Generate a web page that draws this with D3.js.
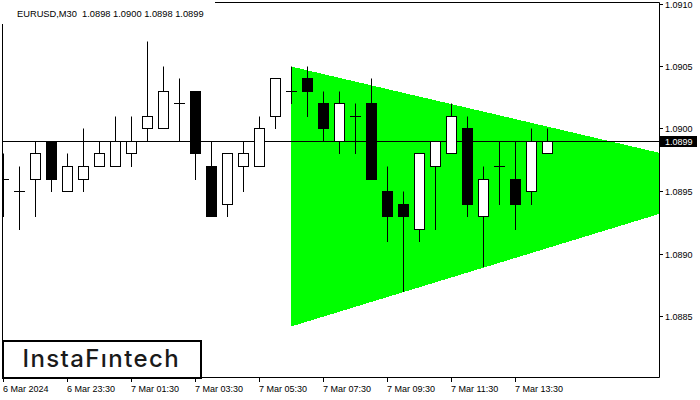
<!DOCTYPE html>
<html><head><meta charset="utf-8">
<script src="https://cdn.jsdelivr.net/npm/d3@7"></script>
<style>body{margin:0;background:#fff;}svg{display:block}</style>
</head><body>
<svg id="chart" width="700" height="400"></svg>
<script>
// ---- data ----
const symbolLabel = "EURUSD,M30";
const lastBarOHLC = [1.0898, 1.0900, 1.0898, 1.0899];
const opens  = [1.0896,1.0895,1.0896,1.0899,1.0895,1.0896,1.0897,1.0897,1.0898,1.0900,1.0900,1.0902,1.0903,1.0897,1.0894,1.0897,1.0897,1.0901,1.0903,1.0904,1.0902,1.0899,1.0901,1.0902,1.0895,1.0894,1.0892,1.0897,1.0898,1.0900,1.0893,1.0897,1.0896,1.0895,1.0898];
const highs  = [1.0898,1.0897,1.0899,1.0899,1.0898,1.0900,1.0899,1.0901,1.0901,1.0907,1.0905,1.0904,1.0903,1.0899,1.0898,1.0899,1.0901,1.0904,1.0905,1.0905,1.0903,1.0903,1.0902,1.0904,1.0897,1.0895,1.0898,1.0899,1.0902,1.0901,1.0897,1.0899,1.0899,1.0900,1.0900];
const lows   = [1.0893,1.0892,1.0893,1.0895,1.0895,1.0895,1.0897,1.0897,1.0897,1.0899,1.0900,1.0899,1.0896,1.0893,1.0893,1.0895,1.0897,1.0900,1.0902,1.0901,1.0899,1.0898,1.0898,1.0896,1.0891,1.0887,1.0891,1.0892,1.0898,1.0893,1.0889,1.0894,1.0892,1.0894,1.0898];
const closes = [1.0896,1.0895,1.0898,1.0896,1.0897,1.0897,1.0898,1.0899,1.0899,1.0901,1.0903,1.0902,1.0898,1.0893,1.0898,1.0898,1.0900,1.0904,1.0903,1.0903,1.0900,1.0902,1.0901,1.0896,1.0893,1.0893,1.0898,1.0899,1.0901,1.0894,1.0896,1.0897,1.0894,1.0899,1.0899];
const priceTicks = [1.0885, 1.0890, 1.0895, 1.0900, 1.0905, 1.0910];
const timeTickIndex  = [0, 4, 8, 12, 16, 20, 24, 28, 32];
const timeTickLabels = ["6 Mar 2024","6 Mar 23:30","7 Mar 01:30","7 Mar 03:30","7 Mar 05:30","7 Mar 07:30","7 Mar 09:30","7 Mar 11:30","7 Mar 13:30"];
const patternIndex = [18, 41];
const patternUpper = [1.0905, 1.08981];
const patternLower = [1.08842, 1.08932];
const bidPrice = 1.0899;
const brandName = "InstaF\u0131ntech";

// ---- layout ----
const svg = d3.select("#chart");
const plotLeft = 2, plotRight = 659, plotBottom = 377;
const x = d3.scaleLinear().domain([0, 41]).range([3, 659]);
const y = d3.scaleLinear().domain([1.0885, 1.0910]).range([316.5, 4]);
const font = "'Liberation Sans', Arial, sans-serif";

svg.append("rect").attr("width", 700).attr("height", 400).attr("fill", "#fff");
svg.append("defs").append("clipPath").attr("id", "plotclip")
  .append("rect").attr("x", plotLeft + 1).attr("y", 0).attr("width", plotRight - plotLeft - 1).attr("height", plotBottom);
const plot = svg.append("g").attr("clip-path", "url(#plotclip)");

// pattern triangle
const poly = [
  [x(patternIndex[0]), y(patternUpper[0])],
  [x(patternIndex[1]), y(patternUpper[1])],
  [x(patternIndex[1]), y(patternLower[1])],
  [x(patternIndex[0]), y(patternLower[0])]
];
plot.append("path").attr("d", "M" + poly.map(p => p.join(",")).join("L") + "Z")
  .attr("fill", "#00ff00").attr("shape-rendering", "crispEdges");

// bid line
plot.append("line").attr("x1", plotLeft).attr("x2", plotRight)
  .attr("y1", Math.floor(y(bidPrice)) + 0.5).attr("y2", Math.floor(y(bidPrice)) + 0.5)
  .attr("stroke", "#000").attr("stroke-width", 1);

// candles
const candles = opens.map((o, i) => ({i, o, h: highs[i], l: lows[i], c: closes[i]}));
const py = v => Math.floor(y(v)) + 0.5;
const g = plot.selectAll("g.candle").data(candles).enter().append("g").attr("class", "candle");
g.append("line")
  .attr("x1", d => Math.round(x(d.i)) + 0.5).attr("x2", d => Math.round(x(d.i)) + 0.5)
  .attr("y1", d => py(d.h)).attr("y2", d => py(d.l) + 0.5)
  .attr("stroke", "#000").attr("stroke-width", 1);
g.filter(d => Math.abs(d.o - d.c) > 1e-9).append("rect")
  .attr("x", d => Math.round(x(d.i)) - 4.5)
  .attr("width", 10)
  .attr("y", d => py(Math.max(d.o, d.c)))
  .attr("height", d => py(Math.min(d.o, d.c)) - py(Math.max(d.o, d.c)))
  .attr("fill", d => d.c > d.o ? "#fff" : "#000")
  .attr("stroke", "#000").attr("stroke-width", 1);
g.filter(d => Math.abs(d.o - d.c) <= 1e-9).append("line")
  .attr("x1", d => Math.round(x(d.i)) - 5).attr("x2", d => Math.round(x(d.i)) + 6)
  .attr("y1", d => py(d.o)).attr("y2", d => py(d.o))
  .attr("stroke", "#000").attr("stroke-width", 1);

// frame
svg.append("path")
  .attr("d", `M${plotLeft + 0.5},2.5H${plotRight + 0.5}V${plotBottom + 0.5}H${plotLeft + 0.5}Z`)
  .attr("fill", "none").attr("stroke", "#000").attr("stroke-width", 1);

// title (with white background)
svg.append("rect").attr("x", 0).attr("y", 0).attr("width", 215).attr("height", 24).attr("fill", "#fff");
svg.append("text").attr("x", 17).attr("y", 16.5)
  .attr("font-family", font).attr("font-size", 9.3).attr("fill", "#000")
  .text(symbolLabel + "\u00a0\u00a0" + lastBarOHLC.map(v => v.toFixed(4)).join(" "));

// right price axis
const yAxis = svg.append("g");
priceTicks.forEach(p => {
  const yy = Math.floor(y(p)) + 0.5;
  yAxis.append("line").attr("x1", plotRight + 1).attr("x2", plotRight + 4)
    .attr("y1", yy).attr("y2", yy).attr("stroke", "#000");
  yAxis.append("text").attr("x", 665).attr("y", yy + 3.5)
    .attr("font-family", font).attr("font-size", 9).attr("fill", "#000")
    .text(p.toFixed(4));
});
// bid label
const by = Math.floor(y(bidPrice)) + 0.5;
yAxis.append("rect").attr("x", 660).attr("y", by - 5.5).attr("width", 37).attr("height", 11).attr("fill", "#000");
yAxis.append("text").attr("x", 665).attr("y", by + 3.5)
  .attr("font-family", font).attr("font-size", 9).attr("fill", "#fff").text(bidPrice.toFixed(4));

// bottom time axis
const xAxis = svg.append("g");
timeTickIndex.forEach((ti, k) => {
  const xx = Math.round(x(ti)) + 0.5;
  xAxis.append("line").attr("x1", xx).attr("x2", xx).attr("y1", plotBottom + 1).attr("y2", plotBottom + 5)
    .attr("stroke", "#000");
  xAxis.append("text").attr("x", xx - 0.5).attr("y", 391.5)
    .attr("font-family", font).attr("font-size", 9).attr("fill", "#000")
    .text(timeTickLabels[k]);
});

// brand box
svg.append("rect").attr("x", 3).attr("y", 341).attr("width", 198).attr("height", 37)
  .attr("fill", "#fff").attr("stroke", "#000").attr("stroke-width", 2);
svg.append("text").attr("x", 22.5).attr("y", 367)
  .attr("font-family", "Inter, 'Noto Sans', sans-serif").attr("font-weight", 500)
  .attr("font-size", 24).attr("letter-spacing", 1.4).attr("fill", "#1a1a1a").text(brandName);
</script>
</body></html>
